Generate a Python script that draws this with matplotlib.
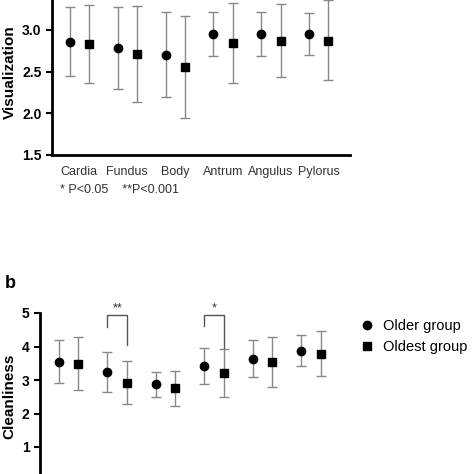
import matplotlib
matplotlib.use("Agg")
import matplotlib.pyplot as plt
from matplotlib.lines import Line2D
import numpy as np

sites = ["Cardia", "Fundus", "Body", "Antrum", "Angulus", "Pylorus"]
vis_older = [2.86, 2.78, 2.70, 2.95, 2.95, 2.95]
vis_older_lo = [2.45, 2.29, 2.19, 2.69, 2.69, 2.70]
vis_older_hi = [3.27, 3.27, 3.22, 3.21, 3.21, 3.20]
vis_oldest = [2.83, 2.71, 2.55, 2.84, 2.87, 2.87]
vis_oldest_lo = [2.36, 2.13, 1.94, 2.36, 2.43, 2.40]
vis_oldest_hi = [3.30, 3.29, 3.17, 3.32, 3.31, 3.36]

cl_older = [3.55, 3.25, 2.87, 3.42, 3.63, 3.88]
cl_older_lo = [2.90, 2.65, 2.50, 2.87, 3.08, 3.43]
cl_older_hi = [4.20, 3.85, 3.25, 3.97, 4.20, 4.33]
cl_oldest = [3.48, 2.92, 2.75, 3.22, 3.53, 3.78]
cl_oldest_lo = [2.70, 2.27, 2.22, 2.50, 2.80, 3.12]
cl_oldest_hi = [4.28, 3.58, 3.28, 3.93, 4.28, 4.45]
groups = ["Older group", "Oldest group"]

W = 474.0
plt.rcParams['font.family'] = ['Liberation Sans', 'DejaVu Sans']
fig = plt.figure(figsize=(4.74, 4.74), dpi=100)

def errs(v, lo, hi):
    v, lo, hi = map(np.array, (v, lo, hi))
    return [v - lo, hi - v]

def draw(ax, o, olo, ohi, d, dlo, dhi, off):
    x = np.arange(len(o))
    ax.errorbar(x - off, o, yerr=errs(o, olo, ohi), fmt='o', color='black', ms=6,
                ecolor='#888888', elinewidth=1.0, capsize=3.5, capthick=1.0)
    ax.errorbar(x + off, d, yerr=errs(d, dlo, dhi), fmt='s', color='black', ms=6,
                ecolor='#888888', elinewidth=1.0, capsize=3.5, capthick=1.0)
    for s in ['top', 'right']:
        ax.spines[s].set_visible(False)
    for s in ['left', 'bottom']:
        ax.spines[s].set_linewidth(2)
    ax.tick_params(width=1.5, length=4)

# top panel
ax1 = fig.add_axes([52 / W, (W - 155) / W, (350 - 52) / W, 166.7 / W])
draw(ax1, vis_older, vis_older_lo, vis_older_hi, vis_oldest, vis_oldest_lo, vis_oldest_hi, 0.2)
ax1.set_ylim(1.5, 3.5)
ax1.set_xlim(-0.57, 5.65)
ax1.set_yticks([1.5, 2.0, 2.5, 3.0])
ax1.set_yticklabels(['1.5', '2.0', '2.5', '3.0'], fontweight='bold', fontsize=10)
ax1.set_xticks(np.arange(6))
ax1.set_xticklabels(sites, fontsize=9, color='#333333')
ax1.tick_params(axis='x', length=0, pad=8)
ax1.set_ylabel('Visualization', fontweight='bold', fontsize=11)
fig.text(60 / W, 1 - 190 / W, '* P<0.05    **P<0.001', fontsize=9, color='#333333', va='center')

# bottom panel
ax2 = fig.add_axes([40 / W, (W - 480.5) / W, (350 - 40) / W, 167.5 / W])
draw(ax2, cl_older, cl_older_lo, cl_older_hi, cl_oldest, cl_oldest_lo, cl_oldest_hi, 0.2)
ax2.set_ylim(0, 5)
ax2.set_xlim(-0.59, 5.8)
ax2.set_yticks([1, 2, 3, 4, 5])
ax2.set_yticklabels(['1', '2', '3', '4', '5'], fontweight='bold', fontsize=10)
ax2.set_xticks([])
ax2.set_ylabel('Cleanliness', fontweight='bold', fontsize=11)
for g, l, r, t, lab in [(1, 4.58, 4.04, 4.94, '**'), (3, 4.6, 3.95, 4.94, '*')]:
    ax2.plot([g - 0.2, g - 0.2, g + 0.2, g + 0.2], [l, t, t, r], color='#555555', lw=1)
    ax2.text(g, t + 0.02, lab, ha='center', va='bottom', fontsize=9, color='#333333')
handles = [Line2D([], [], marker='o', ls='none', color='black', ms=6),
           Line2D([], [], marker='s', ls='none', color='black', ms=6)]
fig.legend(handles, groups, loc='upper left', bbox_to_anchor=(352 / W, 1 - 312 / W),
           frameon=False, fontsize=10.5, handletextpad=0.6, labelspacing=0.45,
           handlelength=1.0, borderpad=0)
fig.text(5 / W, 1 - 283 / W, 'b', fontweight='bold', fontsize=13, va='center')

fig.savefig('out.png', dpi=100)
